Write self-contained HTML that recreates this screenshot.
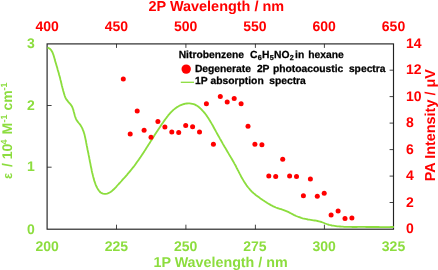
<!DOCTYPE html><html><head><meta charset="utf-8"><title>Nitrobenzene spectra</title><style>html,body{margin:0;padding:0;background:#fff}svg{display:block}text{font-family:"Liberation Sans",Arial,sans-serif;font-weight:bold;text-rendering:geometricPrecision}</style></head><body>
<svg width="438" height="270" viewBox="0 0 438 270">
<rect width="438" height="270" fill="#fff"/>
<rect x="47.1" y="43.9" width="346.4" height="185.3" fill="none" stroke="#222" stroke-width="1.15"/>
<path d="M116.5,43.9v4.0M116.5,229.2v-4.5M185.9,43.9v4.0M185.9,229.2v-4.5M255.4,43.9v4.0M255.4,229.2v-4.5M324.4,43.9v4.0M324.4,229.2v-4.5M47.1,167.2h4.5M47.1,105.5h4.5M393.5,202.5h-3.9M393.5,176.1h-3.9M393.5,149.6h-3.9M393.5,123.1h-3.9M393.5,96.6h-3.9M393.5,70.2h-3.9" stroke="#222" stroke-width="0.85" fill="none"/>
<path d="M47.5,47.7 L48.9,48.2 L50.0,48.9 L51.0,49.9 L51.7,51.0 L52.4,52.2 L52.9,53.5 L53.4,54.8 L53.8,56.1 L54.2,57.5 L54.6,58.8 L54.9,60.1 L55.3,61.5 L55.7,62.8 L56.1,64.1 L56.5,65.4 L56.9,66.7 L57.3,68.1 L57.6,69.4 L58.0,70.7 L58.4,72.0 L58.8,73.3 L59.1,74.7 L59.5,76.0 L59.9,77.3 L60.2,78.6 L60.5,80.0 L60.9,81.3 L61.2,82.7 L61.5,84.0 L61.8,85.4 L62.2,86.7 L62.5,88.0 L62.9,89.4 L63.2,90.7 L63.6,92.0 L64.0,93.4 L64.4,94.7 L64.8,96.0 L65.3,97.3 L65.9,98.5 L66.6,99.7 L67.4,100.7 L68.3,101.8 L69.2,102.8 L70.1,103.8 L70.9,104.9 L71.7,106.0 L72.3,107.2 L72.8,108.5 L73.3,109.8 L73.6,111.2 L74.0,112.5 L74.4,113.9 L74.7,115.2 L75.1,116.5 L75.6,117.8 L76.1,119.1 L76.7,120.3 L77.5,121.4 L78.3,122.5 L79.2,123.5 L80.1,124.6 L80.8,125.7 L81.5,126.9 L82.2,128.1 L82.7,129.4 L83.2,130.6 L83.7,131.9 L84.1,133.2 L84.5,134.6 L84.8,135.9 L85.1,137.3 L85.4,138.6 L85.7,140.0 L86.0,141.3 L86.2,142.7 L86.5,144.1 L86.7,145.4 L87.0,146.8 L87.3,148.1 L87.5,149.5 L87.8,150.8 L88.1,152.2 L88.4,153.5 L88.6,154.9 L88.9,156.2 L89.2,157.5 L89.4,158.9 L89.7,160.2 L89.9,161.6 L90.2,162.9 L90.5,164.3 L90.7,165.6 L91.0,167.0 L91.3,168.3 L91.6,169.7 L91.8,171.0 L92.1,172.4 L92.5,173.7 L92.8,175.1 L93.1,176.4 L93.5,177.7 L93.8,179.1 L94.2,180.4 L94.6,181.7 L95.1,183.0 L95.5,184.3 L96.1,185.6 L96.6,186.8 L97.3,188.1 L98.0,189.3 L98.8,190.5 L99.6,191.5 L100.6,192.5 L101.8,193.2 L103.0,193.7 L104.4,193.9 L105.7,193.9 L107.1,193.6 L108.4,193.1 L109.7,192.5 L110.9,191.7 L112.0,190.9 L113.0,190.0 L114.1,189.0 L115.0,188.1 L116.0,187.1 L116.9,186.0 L117.8,185.0 L118.7,184.0 L119.7,183.0 L120.6,182.0 L121.5,181.0 L122.4,179.9 L123.3,178.9 L124.3,177.9 L125.2,176.9 L126.1,175.8 L127.0,174.8 L127.9,173.7 L128.8,172.7 L129.7,171.6 L130.5,170.6 L131.4,169.5 L132.3,168.4 L133.1,167.3 L134.0,166.3 L134.8,165.2 L135.6,164.1 L136.4,162.9 L137.2,161.8 L138.0,160.7 L138.8,159.6 L139.6,158.4 L140.4,157.3 L141.1,156.2 L141.9,155.0 L142.7,153.9 L143.4,152.7 L144.2,151.6 L144.9,150.4 L145.7,149.2 L146.4,148.1 L147.1,146.9 L147.9,145.7 L148.6,144.6 L149.4,143.4 L150.1,142.3 L150.8,141.1 L151.6,139.9 L152.3,138.8 L153.0,137.6 L153.8,136.5 L154.5,135.3 L155.3,134.1 L156.0,133.0 L156.8,131.8 L157.5,130.7 L158.3,129.5 L159.0,128.4 L159.8,127.2 L160.6,126.1 L161.3,124.9 L162.1,123.8 L162.9,122.7 L163.7,121.5 L164.5,120.4 L165.3,119.3 L166.1,118.2 L166.9,117.1 L167.8,116.0 L168.6,114.9 L169.5,113.9 L170.4,112.8 L171.4,111.8 L172.4,110.9 L173.4,109.9 L174.4,109.1 L175.5,108.2 L176.6,107.4 L177.8,106.7 L179.0,106.0 L180.3,105.3 L181.5,104.8 L182.8,104.3 L184.1,104.0 L185.5,103.7 L186.8,103.5 L188.2,103.4 L189.6,103.4 L191.0,103.6 L192.3,103.9 L193.7,104.2 L195.0,104.7 L196.2,105.3 L197.4,106.0 L198.5,106.8 L199.6,107.7 L200.6,108.6 L201.6,109.6 L202.5,110.6 L203.5,111.6 L204.3,112.7 L205.2,113.7 L206.0,114.8 L206.8,115.9 L207.6,117.1 L208.4,118.2 L209.1,119.4 L209.8,120.5 L210.5,121.7 L211.2,122.9 L211.9,124.1 L212.6,125.3 L213.3,126.5 L213.9,127.8 L214.6,129.0 L215.3,130.2 L215.9,131.4 L216.6,132.6 L217.2,133.8 L217.9,135.0 L218.6,136.2 L219.3,137.4 L219.9,138.6 L220.6,139.8 L221.3,141.0 L222.0,142.2 L222.6,143.4 L223.3,144.6 L224.0,145.8 L224.7,147.0 L225.4,148.1 L226.1,149.3 L226.8,150.5 L227.5,151.7 L228.2,152.9 L228.9,154.1 L229.6,155.3 L230.3,156.4 L231.0,157.6 L231.7,158.8 L232.4,160.0 L233.1,161.2 L233.8,162.4 L234.4,163.6 L235.1,164.8 L235.8,166.0 L236.4,167.3 L237.0,168.5 L237.6,169.7 L238.3,170.9 L238.9,172.2 L239.5,173.4 L240.2,174.6 L240.8,175.8 L241.4,177.0 L242.1,178.2 L242.8,179.4 L243.5,180.6 L244.2,181.8 L245.0,183.0 L245.7,184.1 L246.5,185.3 L247.3,186.4 L248.2,187.5 L249.1,188.5 L250.0,189.6 L250.9,190.6 L251.8,191.6 L252.8,192.5 L253.8,193.4 L254.9,194.3 L256.0,195.2 L257.1,196.0 L258.2,196.8 L259.3,197.6 L260.4,198.4 L261.6,199.2 L262.7,200.0 L263.9,200.7 L265.0,201.5 L266.2,202.2 L267.3,203.0 L268.5,203.7 L269.7,204.4 L270.9,205.1 L272.1,205.7 L273.3,206.4 L274.6,206.9 L275.8,207.5 L277.1,208.0 L278.4,208.4 L279.7,208.8 L281.1,209.2 L282.4,209.7 L283.7,210.1 L285.0,210.6 L286.3,211.1 L287.5,211.6 L288.8,212.2 L290.0,212.9 L291.2,213.5 L292.4,214.1 L293.6,214.8 L294.9,215.4 L296.1,216.0 L297.4,216.5 L298.7,217.0 L300.0,217.4 L301.3,217.9 L302.6,218.3 L303.9,218.6 L305.3,218.9 L306.6,219.2 L308.0,219.5 L309.3,219.7 L310.7,219.9 L312.1,220.1 L313.4,220.3 L314.8,220.5 L316.2,220.7 L317.5,221.0 L318.9,221.3 L320.2,221.6 L321.5,222.0 L322.8,222.5 L324.1,223.0 L325.3,223.5 L326.6,224.0 L327.9,224.5 L329.2,224.9 L330.6,225.2 L331.9,225.5 L333.3,225.7 L334.6,225.9 L336.0,226.1 L337.3,226.3 L338.7,226.4 L340.1,226.5 L341.5,226.6 L342.8,226.7 L344.2,226.8 L345.6,226.8 L347.0,226.9 L348.3,226.9 L349.7,226.9 L351.1,226.9 L352.5,227.0 L353.9,227.0 L355.2,227.0 L356.6,227.0 L358.0,226.9 L359.4,226.9 L360.8,226.9 L362.1,226.9 L363.5,226.9 L364.9,226.9 L366.3,227.0 L367.6,227.0 L369.0,227.0 L370.4,227.0 L371.8,227.0 L373.1,227.0 L374.5,227.0 L375.9,227.0 L377.3,227.0 L378.6,227.0 L380.0,227.1 L381.4,227.1 L382.8,227.1 L384.1,227.1 L385.5,227.1 L386.9,227.1 L388.3,227.1 L389.7,227.1 L391.0,227.0 L392.4,227.0 L393.8,227.0" fill="none" stroke="#8CDD3E" stroke-width="1.85" stroke-linejoin="round" stroke-linecap="butt"/>
<circle cx="123.3" cy="78.9" r="2.5" fill="#FF0000"/>
<circle cx="130.2" cy="134.0" r="2.5" fill="#FF0000"/>
<circle cx="137.2" cy="111.0" r="2.5" fill="#FF0000"/>
<circle cx="144.1" cy="130.3" r="2.5" fill="#FF0000"/>
<circle cx="151.0" cy="137.2" r="2.5" fill="#FF0000"/>
<circle cx="157.9" cy="121.4" r="2.5" fill="#FF0000"/>
<circle cx="164.9" cy="127.1" r="2.5" fill="#FF0000"/>
<circle cx="171.8" cy="132.0" r="2.5" fill="#FF0000"/>
<circle cx="178.7" cy="132.4" r="2.5" fill="#FF0000"/>
<circle cx="185.7" cy="125.5" r="2.5" fill="#FF0000"/>
<circle cx="192.6" cy="126.7" r="2.5" fill="#FF0000"/>
<circle cx="199.5" cy="132.0" r="2.5" fill="#FF0000"/>
<circle cx="206.4" cy="103.7" r="2.5" fill="#FF0000"/>
<circle cx="213.4" cy="144.2" r="2.5" fill="#FF0000"/>
<circle cx="220.3" cy="96.6" r="2.5" fill="#FF0000"/>
<circle cx="227.2" cy="102.1" r="2.5" fill="#FF0000"/>
<circle cx="234.2" cy="98.4" r="2.5" fill="#FF0000"/>
<circle cx="241.1" cy="103.7" r="2.5" fill="#FF0000"/>
<circle cx="248.0" cy="126.2" r="2.5" fill="#FF0000"/>
<circle cx="254.9" cy="144.3" r="2.5" fill="#FF0000"/>
<circle cx="261.9" cy="144.7" r="2.5" fill="#FF0000"/>
<circle cx="268.8" cy="176.1" r="2.5" fill="#FF0000"/>
<circle cx="275.7" cy="176.5" r="2.5" fill="#FF0000"/>
<circle cx="282.7" cy="159.2" r="2.5" fill="#FF0000"/>
<circle cx="289.6" cy="176.1" r="2.5" fill="#FF0000"/>
<circle cx="296.5" cy="176.5" r="2.5" fill="#FF0000"/>
<circle cx="303.4" cy="195.8" r="2.5" fill="#FF0000"/>
<circle cx="310.4" cy="179.0" r="2.5" fill="#FF0000"/>
<circle cx="317.3" cy="196.3" r="2.5" fill="#FF0000"/>
<circle cx="324.2" cy="193.3" r="2.5" fill="#FF0000"/>
<circle cx="331.1" cy="215.0" r="2.5" fill="#FF0000"/>
<circle cx="338.1" cy="211.0" r="2.5" fill="#FF0000"/>
<circle cx="345.0" cy="218.4" r="2.5" fill="#FF0000"/>
<circle cx="351.9" cy="218.0" r="2.5" fill="#FF0000"/>
<g fill="#FF0000" font-size="14" text-anchor="middle">
<text x="47.1" y="31.1">400</text>
<text x="116.4" y="31.1">450</text>
<text x="185.7" y="31.1">500</text>
<text x="254.9" y="31.1">550</text>
<text x="324.2" y="31.1">600</text>
<text x="393.5" y="31.1">650</text>
</g>
<text x="216.3" y="10.7" fill="#FF0000" font-size="14.45" text-anchor="middle">2P Wavelength / nm</text>
<g fill="#8CDD3E" font-size="14" text-anchor="middle">
<text x="47.1" y="250.9">200</text>
<text x="116.4" y="250.9">225</text>
<text x="185.7" y="250.9">250</text>
<text x="254.9" y="250.9">275</text>
<text x="324.2" y="250.9">300</text>
<text x="393.5" y="250.9">325</text>
</g>
<text x="220.6" y="266.6" fill="#8CDD3E" font-size="14.3" text-anchor="middle">1P Wavelength / nm</text>
<g fill="#8CDD3E" font-size="14" text-anchor="end">
<text x="34.9" y="233.5">0</text>
<text x="34.9" y="171.4">1</text>
<text x="34.9" y="109.6">2</text>
<text x="34.9" y="47.8">3</text>
</g>
<g fill="#FF0000" font-size="14">
<text x="406.0" y="233.1">0</text>
<text x="406.0" y="206.6">2</text>
<text x="406.0" y="180.1">4</text>
<text x="406.0" y="153.6">6</text>
<text x="406.0" y="127.2">8</text>
<text x="406.0" y="100.7">10</text>
<text x="406.0" y="74.2">12</text>
<text x="406.0" y="47.7">14</text>
</g>
<text transform="translate(435.0,181.3) rotate(-90)" fill="#FF0000" font-size="14.43">PA Intensity / μV</text>
<g transform="translate(12.1,0) rotate(-90)" fill="#8CDD3E" font-size="14">
<text x="-179.0" y="0" font-size="13">ε</text><text x="-166.9" y="0">/</text><text x="-159.2" y="0">10</text><text x="-144.5" y="-5.6" font-size="9">4</text><text x="-134.6" y="0">M</text><text x="-122.5" y="-5.6" font-size="9">-1</text><text x="-110.6" y="0">cm</text><text x="-90.6" y="-5.6" font-size="9">-1</text>
</g>
<g fill="#000" stroke="#000" stroke-width="0.25" font-size="10.3">
<text x="178.7" y="58.4">Nitrobenzene</text>
<text x="249.9" y="58.4">C<tspan font-size="7.2" dy="1.8" dx="0.3">6</tspan><tspan dy="-1.8" dx="0.3">H</tspan><tspan font-size="7.2" dy="1.8" dx="0.3">5</tspan><tspan dy="-1.8" dx="0.3">NO</tspan><tspan font-size="7.2" dy="1.8" dx="0.3">2</tspan></text>
<text x="295.1" y="58.4">in</text><text x="308.3" y="58.4">hexane</text>
<text x="194.9" y="71.7">Degenerate</text><text x="256.9" y="71.7">2P</text><text x="272.9" y="71.7">photoacoustic</text><text x="348.9" y="71.7">spectra</text>
<text x="195.0" y="84.3">1P</text><text x="210.5" y="84.3">absorption</text><text x="269.2" y="84.3">spectra</text>
</g>
<circle cx="186.2" cy="69.1" r="4.7" fill="#FF0000"/>
<path d="M180.8,82.3H194" stroke="#8CDD3E" stroke-width="1.3"/>
</svg></body></html>
